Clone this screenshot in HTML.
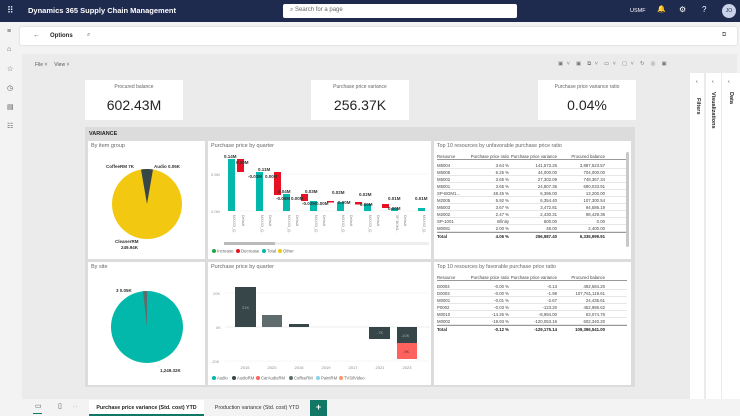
<!DOCTYPE html>
<html><head><meta charset="utf-8">
<style>
*{box-sizing:border-box;margin:0;padding:0}
body{width:740px;height:416px;overflow:hidden;background:#f3f3f3;font-family:"Liberation Sans",sans-serif;position:relative;color:#252423}
.a{position:absolute}
.t{position:absolute;white-space:nowrap}
.panel{position:absolute;background:#fff}
.ptitle{position:absolute;left:3px;top:2px;font-size:5.5px;color:#666}
.tbl{position:absolute;font-size:4.3px;color:#444}
.row{position:absolute;left:0;width:190px;height:7px;border-bottom:0.5px solid #e6e6e6}
.row span{position:absolute;top:1px}
.r1{left:0}.r2{right:118px}.r3{right:70px}.r4{right:22px}
</style></head><body>
<!-- top bar -->
<div class="a" style="left:0;top:0;width:740px;height:22px;background:#1f2a4f"></div>
<div class="t" style="left:7px;top:5px;color:#fff;font-size:9px;letter-spacing:-1px">⠿</div>
<div class="t" style="left:28px;top:6px;color:#fff;font-size:7.5px;font-weight:bold">Dynamics 365 Supply Chain Management</div>
<div class="a" style="left:283px;top:4px;width:234px;height:14px;background:#fff;border-radius:2px"></div>
<div class="t" style="left:290px;top:7px;font-size:6px;color:#666">⌕ Search for a page</div>
<div class="t" style="left:630px;top:8px;color:#fff;font-size:5.5px">USMF</div>
<div class="t" style="left:657px;top:5px;color:#fff;font-size:7px">🔔</div>
<div class="t" style="left:679px;top:5px;color:#fff;font-size:8px">⚙</div>
<div class="t" style="left:702px;top:5px;color:#fff;font-size:8px">?</div>
<div class="a" style="left:722px;top:4px;width:14px;height:14px;border-radius:50%;background:#c9d2e8;font-size:5px;text-align:center;line-height:14px;color:#1f2a4f">JO</div>
<!-- left nav icons -->
<div class="t" style="left:7px;top:28px;font-size:7px;color:#555">≡</div>
<div class="t" style="left:7px;top:46px;font-size:7px;color:#555">⌂</div>
<div class="t" style="left:7px;top:65px;font-size:7px;color:#555">☆</div>
<div class="t" style="left:7px;top:84px;font-size:7px;color:#555">◷</div>
<div class="t" style="left:7px;top:103px;font-size:7px;color:#555">▤</div>
<div class="t" style="left:7px;top:122px;font-size:7px;color:#555">☷</div>
<!-- options bar -->
<div class="a" style="left:20px;top:27px;width:717px;height:18px;background:#fff;border-radius:2px;box-shadow:0 0 2px #ccc"></div>
<div class="t" style="left:33px;top:32px;font-size:7px;color:#555">←</div>
<div class="t" style="left:50px;top:33px;font-size:6px;font-weight:bold">Options</div>
<div class="t" style="left:87px;top:32px;font-size:6px;color:#666">⌕</div>
<div class="t" style="left:722px;top:32px;font-size:6px;color:#666">⧉</div>
<!-- canvas -->
<div class="a" style="left:22px;top:54px;width:715px;height:345px;background:#ebebeb"></div>
<div class="t" style="left:35px;top:62px;font-size:5px;color:#555">File ˅ &nbsp; &nbsp; View ˅</div>
<div class="t" style="left:558px;top:61px;font-size:5.5px;color:#777;letter-spacing:1px">▣ ˅ &nbsp;▣ &nbsp;⧉ ˅ &nbsp;▭ ˅ &nbsp;▢ ˅ &nbsp;↻ &nbsp;◎ &nbsp;▣</div>
<!-- right panes -->
<div class="a" style="left:690px;top:73px;width:14px;height:327px;background:#fff"></div>
<div class="a" style="left:706px;top:73px;width:15px;height:327px;background:#fff"></div>
<div class="a" style="left:722px;top:73px;width:18px;height:327px;background:#fff"></div>
<div class="t" style="left:696px;top:79px;font-size:5px">‹</div>
<div class="t" style="left:712px;top:79px;font-size:5px">‹</div>
<div class="t" style="left:728px;top:79px;font-size:5px">‹</div>
<div class="t" style="left:701px;top:98px;font-size:5.5px;font-weight:bold;transform:rotate(90deg);transform-origin:0 0">Filters</div>
<div class="t" style="left:716px;top:92px;font-size:5.5px;font-weight:bold;transform:rotate(90deg);transform-origin:0 0">Visualizations</div>
<div class="t" style="left:734px;top:92px;font-size:5.5px;font-weight:bold;transform:rotate(90deg);transform-origin:0 0">Data</div>
<!-- KPI -->
<div class="panel" style="left:85px;top:80px;width:98px;height:40px"></div>
<div class="t" style="left:85px;top:84px;width:98px;text-align:center;font-size:5px;color:#666">Procured balance</div>
<div class="t" style="left:85px;top:97px;width:98px;text-align:center;font-size:14px">602.43M</div>
<div class="panel" style="left:311px;top:80px;width:98px;height:40px"></div>
<div class="t" style="left:311px;top:84px;width:98px;text-align:center;font-size:5px;color:#666">Purchase price variance</div>
<div class="t" style="left:311px;top:97px;width:98px;text-align:center;font-size:14px">256.37K</div>
<div class="panel" style="left:538px;top:80px;width:98px;height:40px"></div>
<div class="t" style="left:538px;top:84px;width:98px;text-align:center;font-size:5px;color:#666">Purchase price variance ratio</div>
<div class="t" style="left:538px;top:97px;width:98px;text-align:center;font-size:14px">0.04%</div>
<!-- variance frame -->
<div class="a" style="left:85px;top:127px;width:550px;height:260px;background:#dcdcdc"></div>
<div class="t" style="left:89px;top:131px;font-size:5.5px;font-weight:bold">VARIANCE</div>
<!-- pie 1 -->
<div class="panel" style="left:88px;top:141px;width:117px;height:118px"><div class="ptitle">By item group</div></div>
<svg class="a" style="left:88px;top:141px" width="117" height="118">
<circle cx="59" cy="63" r="35" fill="#f2c811"/>
<path d="M59 63 L53 28.5 A35 35 0 0 1 65 28.5 Z" fill="#374649"/>
<text x="18" y="27" font-size="4.5" font-weight="bold" fill="#333">CoffeeRM 7K</text>
<text x="66" y="27" font-size="4.5" font-weight="bold" fill="#333">Audio 0.05K</text>
<text x="27" y="102" font-size="4.5" font-weight="bold" fill="#333">CleanerRM</text>
<text x="33" y="108" font-size="4.5" font-weight="bold" fill="#333">249.94K</text>
</svg>
<!-- waterfall -->
<div class="panel" style="left:208px;top:141px;width:223px;height:118px"><div class="ptitle">Purchase price by quarter</div></div>
<svg class="a" style="left:208px;top:141px" width="223" height="118">
<line x1="17" y1="33" x2="222" y2="33" stroke="#eee" stroke-width="0.5"/>
<line x1="17" y1="70" x2="222" y2="70" stroke="#eee" stroke-width="0.5"/>
<text x="3" y="35" font-size="4" fill="#999">0.5M</text><text x="3" y="72" font-size="4" fill="#999">0.0M</text>
<g fill="#01b8aa">
<rect x="20" y="18" width="7" height="52"/><rect x="48" y="31" width="7" height="39"/><rect x="75" y="53" width="7" height="17"/>
<rect x="102" y="60" width="7" height="10"/><rect x="129" y="61" width="7" height="9"/><rect x="156" y="63" width="7" height="7"/>
<rect x="183" y="67" width="7" height="3"/><rect x="210" y="67" width="7" height="3"/></g>
<g fill="#e81123">
<rect x="29" y="18" width="7" height="13"/><rect x="66" y="31" width="7" height="23"/><rect x="93" y="53" width="7" height="7"/>
<rect x="119" y="60" width="7" height="1.5"/><rect x="147" y="61" width="7" height="2.5"/><rect x="174" y="63" width="7" height="4"/></g>
<g font-size="4.5" font-weight="bold" fill="#333">
<text x="16" y="17">0.14M</text><text x="28" y="23">0.00M</text><text x="40" y="37">-0.03M</text><text x="50" y="30">0.11M</text><text x="57" y="37">0.00M</text>
<text x="70" y="52">0.04M</text><text x="68" y="59">-0.06M</text><text x="83" y="59">0.00M</text><text x="97" y="52">0.03M</text>
<text x="94" y="64">-0.02M</text><text x="108" y="64">0.00M</text><text x="124" y="53">0.02M</text><text x="130" y="63">0.00M</text>
<text x="151" y="55">0.02M</text><text x="152" y="65">0.00M</text><text x="180" y="59">0.01M</text><text x="180" y="69">0.00M</text><text x="207" y="59">0.01M</text></g>
<g font-size="3.5" fill="#888">
<text transform="translate(25,74) rotate(90)">MXXXX_Q..</text><text transform="translate(34,74) rotate(90)">Default</text>
<text transform="translate(53,74) rotate(90)">MXXXX_Q..</text><text transform="translate(61,74) rotate(90)">Default</text>
<text transform="translate(80,74) rotate(90)">MXXXX_Q..</text><text transform="translate(88,74) rotate(90)">Default</text>
<text transform="translate(107,74) rotate(90)">MXXXX_Q..</text><text transform="translate(115,74) rotate(90)">Default</text>
<text transform="translate(134,74) rotate(90)">MXXXX_Q..</text><text transform="translate(142,74) rotate(90)">Default</text>
<text transform="translate(161,74) rotate(90)">MXXXX_Q..</text><text transform="translate(169,74) rotate(90)">Default</text>
<text transform="translate(188,74) rotate(90)">SP-BOM1..</text><text transform="translate(196,74) rotate(90)">Default</text>
<text transform="translate(215,74) rotate(90)">MXXXX_Q..</text></g>
<rect x="16" y="101" width="205" height="3" fill="#eee"/><rect x="16" y="101" width="51" height="3" fill="#bbb"/>
<g font-size="4.3" fill="#666"><circle cx="6" cy="110" r="2" fill="#1aab40"/><text x="9" y="111.5">Increase</text>
<circle cx="30" cy="110" r="2" fill="#e81123"/><text x="33" y="111.5">Decrease</text>
<circle cx="56" cy="110" r="2" fill="#01b8aa"/><text x="59" y="111.5">Total</text>
<circle cx="72" cy="110" r="2" fill="#f2c811"/><text x="75" y="111.5">Other</text></g>
</svg>
<!-- table 1 -->
<div class="panel" style="left:434px;top:141px;width:197px;height:118px"><div class="ptitle" style="font-size:5.3px">Top 10 resources by unfavorable purchase price ratio</div></div>
<div class="tbl" style="left:437px;top:153px;width:190px;height:104px">
<div class="row" style="top:0;border-bottom:0.8px solid #999"><span class="r1">Resource</span><span class="r2">Purchase price ratio</span><span class="r3">Purchase price variance</span><span class="r4">Procured balance</span></div>
<div class="row" style="top:9px"><span class="r1">M5004</span><span class="r2">3.64 %</span><span class="r3">141,573.26</span><span class="r4">3,887,523.57</span></div>
<div class="row" style="top:16px"><span class="r1">M5005</span><span class="r2">6.25 %</span><span class="r3">44,000.00</span><span class="r4">704,000.00</span></div>
<div class="row" style="top:23px"><span class="r1">M5002</span><span class="r2">3.65 %</span><span class="r3">27,302.09</span><span class="r4">748,367.34</span></div>
<div class="row" style="top:30px"><span class="r1">M5001</span><span class="r2">3.65 %</span><span class="r3">24,807.35</span><span class="r4">680,033.91</span></div>
<div class="row" style="top:37px"><span class="r1">SP-BOM1...</span><span class="r2">48.45 %</span><span class="r3">6,396.00</span><span class="r4">13,200.00</span></div>
<div class="row" style="top:44px"><span class="r1">M2005</span><span class="r2">5.92 %</span><span class="r3">6,354.40</span><span class="r4">107,300.54</span></div>
<div class="row" style="top:51px"><span class="r1">M5003</span><span class="r2">3.67 %</span><span class="r3">3,472.81</span><span class="r4">94,586.19</span></div>
<div class="row" style="top:58px"><span class="r1">M2002</span><span class="r2">2.47 %</span><span class="r3">2,430.31</span><span class="r4">98,429.36</span></div>
<div class="row" style="top:65px"><span class="r1">SP-1001</span><span class="r2">Infinity</span><span class="r3">600.00</span><span class="r4">0.00</span></div>
<div class="row" style="top:72px"><span class="r1">M0081</span><span class="r2">2.00 %</span><span class="r3">48.00</span><span class="r4">2,400.00</span></div>
<div class="row" style="top:79px;border-top:0.8px solid #999;border-bottom:none;font-weight:bold;color:#222"><span class="r1">Total</span><span class="r2">4.06 %</span><span class="r3">256,987.40</span><span class="r4">6,335,999.91</span></div>
</div>
<div class="a" style="left:626px;top:152px;width:3px;height:95px;background:#c8c8c8;border-radius:2px"></div>
<!-- pie 2 -->
<div class="panel" style="left:88px;top:262px;width:117px;height:123px"><div class="ptitle">By site</div></div>
<svg class="a" style="left:88px;top:262px" width="117" height="123">
<circle cx="59" cy="65" r="36" fill="#01b8aa"/>
<path d="M59 65 L55 29.2 A36 36 0 0 1 59 29 Z" fill="#5f6b6d"/>
<text x="28" y="30" font-size="4.5" font-weight="bold" fill="#333">3 0.05K</text>
<text x="72" y="110" font-size="4.5" font-weight="bold" fill="#333">1,249.32K</text>
</svg>
<!-- bar chart -->
<div class="panel" style="left:208px;top:262px;width:223px;height:123px"><div class="ptitle">Purchase price by quarter</div></div>
<svg class="a" style="left:208px;top:262px" width="223" height="123">
<line x1="17" y1="31" x2="222" y2="31" stroke="#eee" stroke-width="0.5"/>
<line x1="17" y1="65" x2="222" y2="65" stroke="#ddd" stroke-width="0.5"/>
<line x1="17" y1="99" x2="222" y2="99" stroke="#eee" stroke-width="0.5"/>
<g font-size="4" fill="#999"><text x="5" y="33">20K</text><text x="8" y="67">0K</text><text x="3" y="101">-20K</text></g>
<rect x="27" y="25" width="21" height="40" fill="#374649"/>
<rect x="54" y="53" width="20" height="12" fill="#5f6b6d"/>
<rect x="81" y="62" width="20" height="3" fill="#374649"/>
<rect x="161" y="65" width="21" height="12" fill="#374649"/>
<rect x="189" y="65" width="20" height="16" fill="#374649"/>
<rect x="189" y="81" width="20" height="16" fill="#fd625e"/>
<g font-size="4" fill="#aaa"><text x="34" y="47">21K</text><text x="169" y="72">-7K</text><text x="193" y="75">-10K</text></g>
<text x="195" y="91" font-size="4" fill="#633">-9K</text>
<g font-size="4" fill="#888" text-anchor="middle"><text x="37" y="107">2015</text><text x="64" y="107">2020</text><text x="91" y="107">2016</text>
<text x="118" y="107">2019</text><text x="145" y="107">2017</text><text x="172" y="107">2021</text><text x="199" y="107">2023</text></g>
<g font-size="4.2" fill="#666"><circle cx="6" cy="116" r="2" fill="#01b8aa"/><text x="9" y="117.5">Audio</text>
<circle cx="26" cy="116" r="2" fill="#374649"/><text x="29" y="117.5">AudioRM</text>
<circle cx="50" cy="116" r="2" fill="#fd625e"/><text x="53" y="117.5">CarAudioRM</text>
<circle cx="83" cy="116" r="2" fill="#5f6b6d"/><text x="86" y="117.5">CoffeeRM</text>
<circle cx="110" cy="116" r="2" fill="#8ad4eb"/><text x="113" y="117.5">PaintRM</text>
<circle cx="133" cy="116" r="2" fill="#fe9666"/><text x="136" y="117.5">TVSilVideo</text></g>
</svg>
<!-- table 2 -->
<div class="panel" style="left:434px;top:262px;width:197px;height:123px"><div class="ptitle" style="font-size:5.3px">Top 10 resources by favorable purchase price ratio</div></div>
<div class="tbl" style="left:437px;top:274px;width:190px;height:70px">
<div class="row" style="top:0;border-bottom:0.8px solid #999"><span class="r1">Resource</span><span class="r2">Purchase price ratio</span><span class="r3">Purchase price variance</span><span class="r4">Procured balance</span></div>
<div class="row" style="top:9px"><span class="r1">D0004</span><span class="r2">-0.00 %</span><span class="r3">-0.13</span><span class="r4">492,584.20</span></div>
<div class="row" style="top:16px"><span class="r1">D0003</span><span class="r2">-0.00 %</span><span class="r3">-1.98</span><span class="r4">107,761,119.61</span></div>
<div class="row" style="top:23px"><span class="r1">M0001</span><span class="r2">-0.01 %</span><span class="r3">-2.67</span><span class="r4">24,435.61</span></div>
<div class="row" style="top:30px"><span class="r1">P0002</span><span class="r2">-0.03 %</span><span class="r3">-123.20</span><span class="r4">452,986.62</span></div>
<div class="row" style="top:37px"><span class="r1">M0010</span><span class="r2">-14.26 %</span><span class="r3">-8,994.00</span><span class="r4">63,074.76</span></div>
<div class="row" style="top:44px"><span class="r1">M0002</span><span class="r2">-19.93 %</span><span class="r3">-120,053.16</span><span class="r4">602,340.20</span></div>
<div class="row" style="top:51px;border-top:0.8px solid #999;border-bottom:none;font-weight:bold;color:#222"><span class="r1">Total</span><span class="r2">-0.12 %</span><span class="r3">-129,175.14</span><span class="r4">109,396,541.00</span></div>
</div>
<!-- bottom tabs -->
<div class="a" style="left:22px;top:399px;width:718px;height:17px;background:#f3f3f3"></div>
<div class="t" style="left:35px;top:402px;font-size:7px;color:#555">▭</div>
<div class="a" style="left:33px;top:413px;width:9px;height:1px;background:#117865"></div>
<div class="t" style="left:58px;top:402px;font-size:7px;color:#555">▯</div>
<div class="t" style="left:73px;top:404px;font-size:5px;color:#bbb">‹ ›</div>
<div class="a" style="left:89px;top:400px;width:115px;height:16px;background:#fff;border-bottom:2px solid #117865"></div>
<div class="t" style="left:89px;top:405px;width:115px;text-align:center;font-size:5.3px;font-weight:bold">Purchase price variance (Std. cost) YTD</div>
<div class="t" style="left:207px;top:405px;width:100px;text-align:center;font-size:5.3px;color:#333">Production variance (Std. cost) YTD</div>
<div class="a" style="left:310px;top:400px;width:17px;height:16px;background:#117865;color:#fff;font-size:9px;text-align:center;line-height:15px;font-weight:bold">+</div>
</body></html>
